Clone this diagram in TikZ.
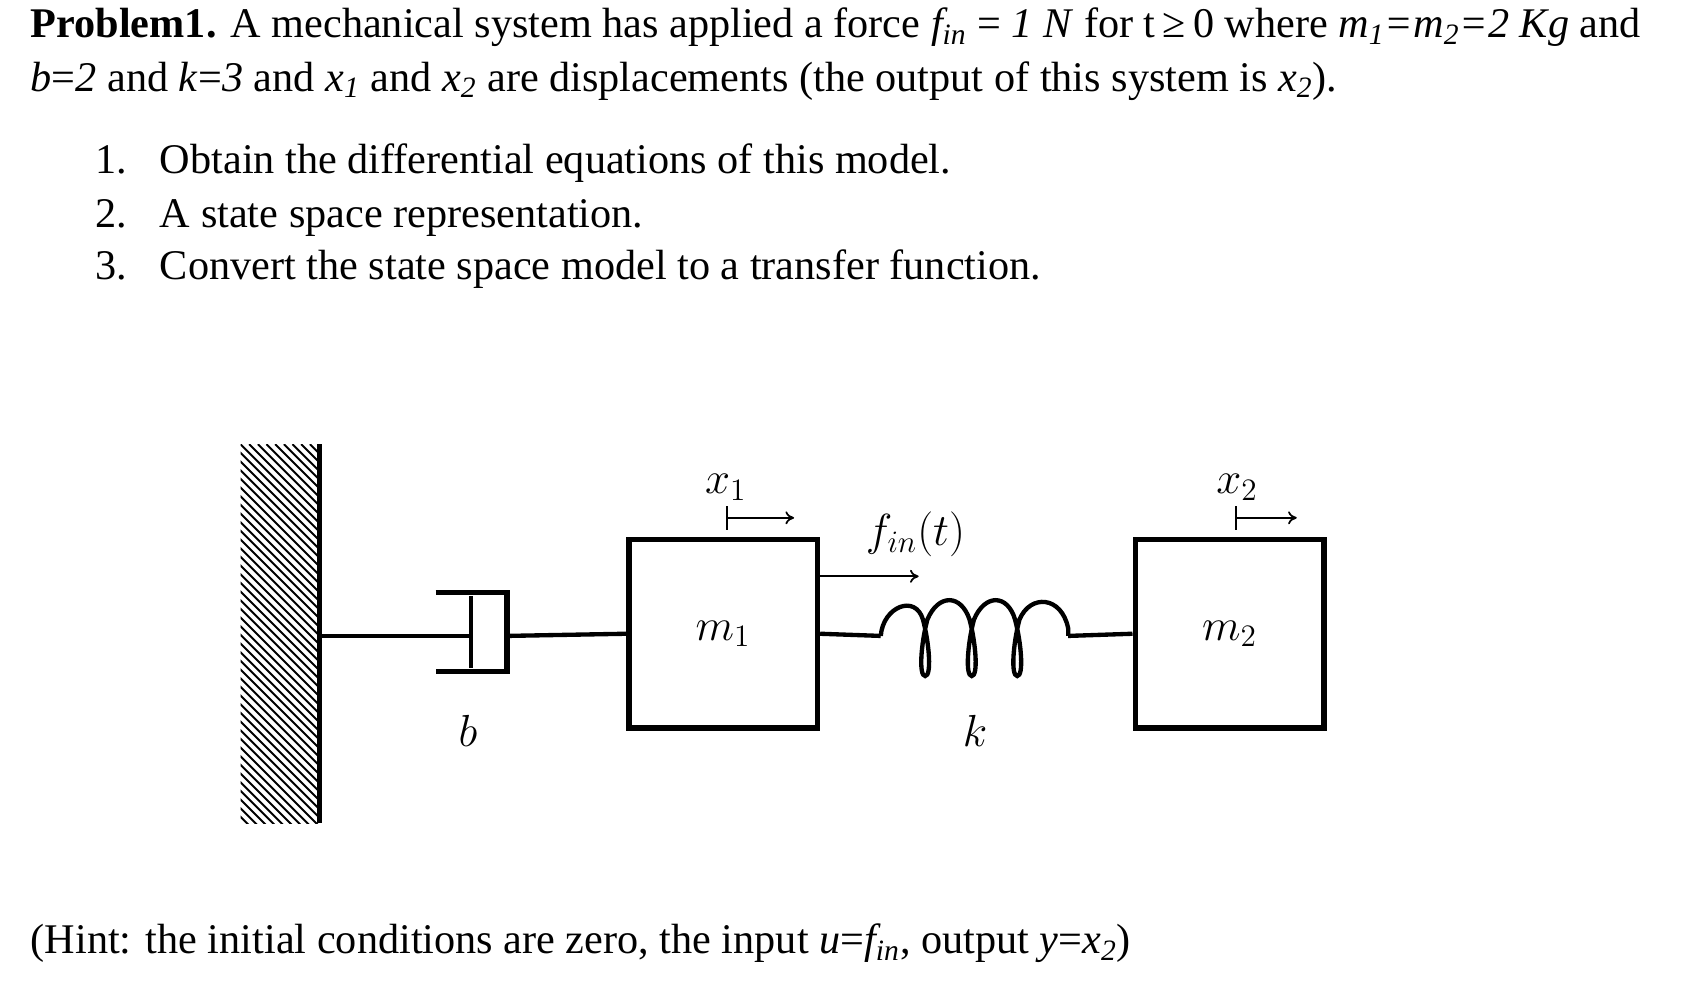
\documentclass[tikz,border=0pt]{standalone}
\usepackage{fontspec}
\setmainfont{Liberation Serif}
\usetikzlibrary{decorations.pathmorphing,arrows.meta}
\begin{document}
\begin{tikzpicture}[x=0.5pt,y=-0.5pt,
  txt/.style={anchor=base west,inner sep=0pt,font=\fontsize{19.5}{22}\selectfont},
  lbl/.style={inner sep=0pt,font=\fontsize{21}{24}\selectfont},
  massbox/.style={draw,line width=2.6pt,minimum width=87pt,minimum height=87pt,inner sep=0pt},
  rod/.style={line width=2pt},
  disp/.style={line width=0.8pt,{Bar[width=11pt]}-{To[length=4pt,width=6pt]}}]
\useasboundingbox (0,0) rectangle (1560,910);
% text
\node[txt] (l1) at (28,35) {\textbf{Problem1.} A mechanical system has applied a force \textit{f\textsubscript{in}} = \textit{1 N} for t\,≥\,0 where \textit{m\textsubscript{1}=m\textsubscript{2}=2 Kg} and};
\node[txt] (l2) at (28,84) {\textit{b}=\textit{2} and \textit{k}=\textit{3} and \textit{x\textsubscript{1}} and \textit{x\textsubscript{2}} are displacements (the output of this system is \textit{x\textsubscript{2}}).};
\node[txt] (i1) at (88,160) {1.\hspace{15pt}Obtain the differential equations of this model.};
\node[txt] (i2) at (88,210) {2.\hspace{15pt}A state space representation.};
\node[txt] (i3) at (88,258) {3.\hspace{15pt}Convert the state space model to a transfer function.};
\node[txt] (h) at (28,880) {(Hint: the initial conditions are zero, the input \textit{u}=\textit{f\textsubscript{in}}, output \textit{y}=\textit{x\textsubscript{2}})};
% wall
\begin{scope}
\clip (222,410) rectangle (295,760);
\foreach \i in {-400,-392,...,80} \draw[line width=0.9pt] (222+\i,410) -- (222+\i+400,810);
\end{scope}
\coordinate (wt) at (295,410); \coordinate (wb) at (295,760);
\draw[line width=2.2pt] (wt) -- (wb);
% masses
\node[massbox] (m1) at (667.5,585) {};
\node[massbox] (m2) at (1135,585) {};
\node[lbl] at (667.5,585) {$m_1$};
\node[lbl] at (1135,585) {$m_2$};
% damper
\coordinate (wr) at (295,587);
\coordinate (pis) at (435,587);
\draw[rod] (wr) -- (pis);
\draw[line width=2pt] (435,550) -- (435,617);
\draw[line width=2.4pt] (402,547) -- (468,547) -- (468,620) -- (402,620);
\draw[rod] (468,587) -- (m1.west);
\node[lbl] (b) at (432,675) {$b$};
% spring
\coordinate (s0) at (m1.east);
\coordinate (s1) at (813,587);
\coordinate (s2) at (986,587);
\draw[rod] (s0) -- (s1);
\draw[rod] (s1) .. controls (815,560) and (845,548) .. (852,572)
  .. controls (858,595) and (860,624) .. (854,624) .. controls (848,624) and (850,595) .. (856,572)
  .. controls (866,548) and (887,548) .. (895,572)
  .. controls (901,595) and (903,624) .. (897,624) .. controls (891,624) and (893,595) .. (899,572)
  .. controls (909,548) and (930,548) .. (937,572)
  .. controls (943,595) and (945,624) .. (939,624) .. controls (933,624) and (935,595) .. (941,572)
  .. controls (951,548) and (980,550) .. (986,580) -- (s2);
\draw[rod] (s2) -- (m2.west);
\node[lbl] (k) at (900,675) {$k$};
% force
\coordinate (fa) at (756,532);
\coordinate (fb) at (848,532);
\draw[line width=0.8pt,-{To[length=4pt,width=6pt]}] (fa) -- (fb);
\node[lbl] (f) at (845,493) {$f_{in}(t)$};
% displacements
\coordinate (x1a) at (670,478); \coordinate (x1b) at (733,478);
\draw[disp] (x1a) -- (x1b);
\node[lbl] (x1) at (670,450) {$x_1$};
\coordinate (x2a) at (1140,478); \coordinate (x2b) at (1197,478);
\draw[disp] (x2a) -- (x2b);
\node[lbl] (x2) at (1142,450) {$x_2$};
\end{tikzpicture}
\end{document}
